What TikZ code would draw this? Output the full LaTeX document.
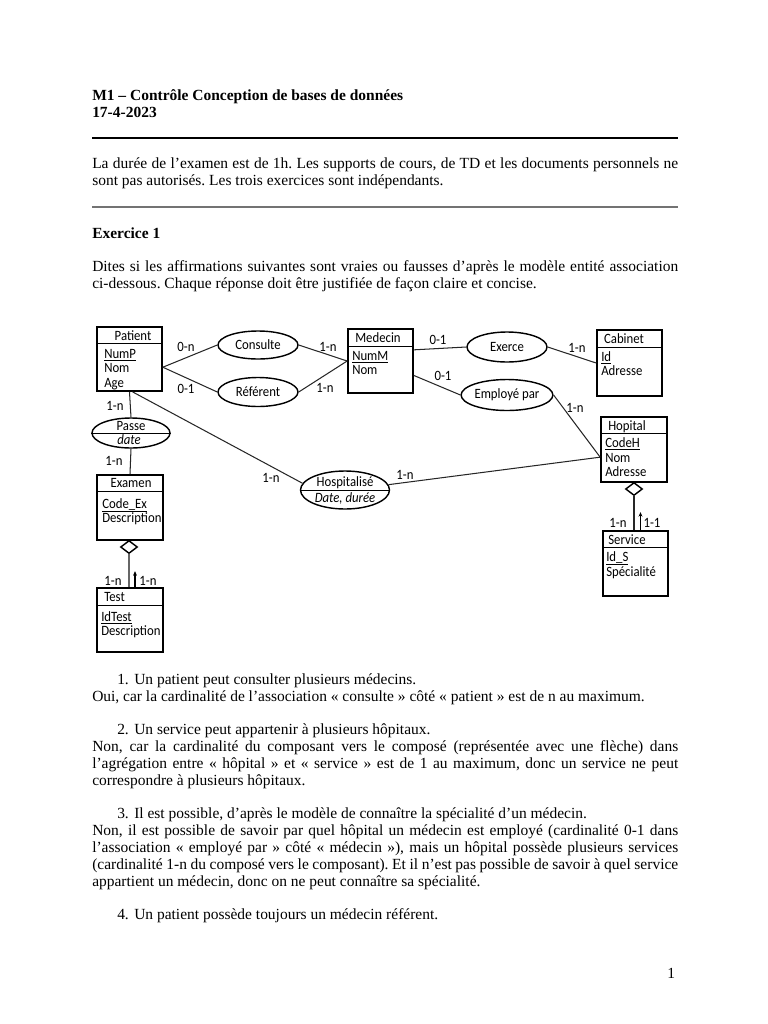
\documentclass[tikz,border=0pt]{standalone}
\usepackage{fontspec}
\setmainfont{Liberation Serif}
\newfontfamily\diagfont[FakeStretch=0.9]{Carlito}
\usetikzlibrary{shapes.geometric,calc,arrows.meta}
\newdimen\upx \upx=0.7751pt
\frenchspacing
\begin{document}
\begin{tikzpicture}[x=0.7751pt,y=-0.7751pt,
  body/.style={anchor=base west,inner sep=0,font=\fontsize{12}{14}\selectfont},
  ent/.style={draw,line width=1.3pt,rectangle,inner sep=0},
  rel/.style={draw,line width=1.1pt,ellipse,inner sep=0,font=\diagfont\fontsize{11}{12}\selectfont},
  attr/.style={anchor=base west,inner sep=0,font=\diagfont\fontsize{11}{12}\selectfont},
  hdr/.style={anchor=base,inner sep=0,font=\diagfont\fontsize{11}{12}\selectfont},
  card/.style={anchor=center,inner sep=0,font=\diagfont\fontsize{11}{12}\selectfont},
  sep/.style={line width=0.7pt},
  conn/.style={line width=0.8pt,black!85},
  agg/.style={draw,diamond,line width=1.1pt,inner sep=0,fill=white}
]
\fill[white] (0,0) rectangle (768,1024);
\useasboundingbox (0,0) rectangle (768,1024);

% ---------- header text ----------
\node[body,font=\bfseries\fontsize{12}{14}\selectfont] (t1) at (92,100) {M1 – Contrôle Conception de bases de données};
\node[body,font=\bfseries\fontsize{12}{14}\selectfont] (t2) at (92,117) {17-4-2023};
\draw[line width=0.9pt] (92,138) -- (678,138);
\node[body] (p1) at (92,168) {\makebox[454.2pt][s]{La durée de l’examen est de 1h. Les supports de cours, de TD et les documents personnels ne}};
\node[body] (p2) at (92,185) {sont pas autorisés. Les trois exercices sont indépendants.};
\draw[line width=2.2pt,black!55] (92,207) -- (678,207);
\node[body,font=\bfseries\fontsize{12}{14}\selectfont] (ex) at (92,238) {Exercice 1};
\node[body] (q1) at (92,271) {\makebox[454.2pt][s]{Dites si les affirmations suivantes sont vraies ou fausses d’après le modèle entité association}};
\node[body] (q2) at (92,288) {ci-dessous. Chaque réponse doit être justifiée de façon claire et concise.};

% ---------- diagram: entities ----------
\node[ent,minimum width=65*\upx,minimum height=64*\upx] (patient) at (129.5,359) {};
\draw[sep] (patient.west |- 0,343) -- (patient.east |- 0,343);
\node[hdr] (patientH) at (133,340) {Patient};
\node[attr] (patientA1) at (104,358) {\underline{NumP}};
\node[attr] (patientA2) at (104,372) {Nom};
\node[attr] (patientA3) at (104,387) {Age};

\node[ent,minimum width=65*\upx,minimum height=64*\upx] (medecin) at (380.5,361) {};
\draw[sep] (medecin.west |- 0,346) -- (medecin.east |- 0,346);
\node[hdr] (medecinH) at (378,342) {Medecin};
\node[attr] (medecinA1) at (352,360) {\underline{NumM}};
\node[attr] (medecinA2) at (352,374) {Nom};

\node[ent,minimum width=65*\upx,minimum height=66*\upx] (cabinet) at (629.5,363) {};
\draw[sep] (cabinet.west |- 0,347) -- (cabinet.east |- 0,347);
\node[hdr] (cabinetH) at (624,343) {Cabinet};
\node[attr] (cabinetA1) at (601,361) {\underline{Id}};
\node[attr] (cabinetA2) at (601,375) {Adresse};

\node[ent,minimum width=66*\upx,minimum height=65*\upx] (hopital) at (634,449.5) {};
\draw[sep] (hopital.west |- 0,433) -- (hopital.east |- 0,433);
\node[hdr] (hopitalH) at (627,430) {Hopital};
\node[attr] (hopitalA1) at (605,447) {\underline{CodeH}};
\node[attr] (hopitalA2) at (605,462) {Nom};
\node[attr] (hopitalA3) at (605,476) {Adresse};

\node[ent,minimum width=66*\upx,minimum height=65*\upx] (examen) at (130,507.5) {};
\draw[sep] (examen.west |- 0,491) -- (examen.east |- 0,491);
\node[hdr] (examenH) at (131,487) {Examen};
\node[attr] (examenA1) at (102,508) {\underline{Code\_Ex}};
\node[attr] (examenA2) at (102,522) {Description};

\node[ent,minimum width=66*\upx,minimum height=64*\upx] (test) at (130,620) {};
\draw[sep] (test.west |- 0,605) -- (test.east |- 0,605);
\node[attr] (testH) at (104,601) {Test};
\node[attr] (testA1) at (101,621) {\underline{IdTest}};
\node[attr] (testA2) at (101,635) {Description};

\node[ent,minimum width=65*\upx,minimum height=65*\upx] (service) at (635.5,563.5) {};
\draw[sep] (service.west |- 0,547) -- (service.east |- 0,547);
\node[hdr] (serviceH) at (627,544) {Service};
\node[attr] (serviceA1) at (606,561) {\underline{Id\_S}};
\node[attr] (serviceA2) at (606,576) {Spécialité};

% ---------- diagram: associations ----------
\node[rel,minimum width=80*\upx,minimum height=28*\upx] (consulte) at (258,345) {Consulte};
\node[rel,minimum width=80*\upx,minimum height=29*\upx] (referent) at (258,392) {Référent};
\node[rel,minimum width=80*\upx,minimum height=30*\upx] (exerce) at (507,347) {Exerce};
\node[rel,minimum width=81*\upx,minimum height=31*\upx] (employe) at (507,395) {Employé par};
\node[rel,minimum width=78*\upx,minimum height=30*\upx] (passe) at (131,433) {};
\draw[sep] (passe.west) -- (passe.east);
\node[hdr] (passeT) at (131,430) {Passe};
\node[hdr,font=\diagfont\itshape\fontsize{11}{12}\selectfont] (passeD) at (129,444) {date};
\node[rel,minimum width=89*\upx,minimum height=38*\upx] (hosp) at (345,490) {};
\draw[sep] (hosp.west) -- (hosp.east);
\node[hdr] (hospT) at (345,486) {Hospitalisé};
\node[hdr,font=\diagfont\itshape\fontsize{11}{12}\selectfont] (hospD) at (345,502) {Date, durée};

% ---------- connectors ----------
\coordinate (pR) at ($(patient.north east)!0.625!(patient.south east)$);
\coordinate (pB) at ($(patient.south)+(3,0)$);
\coordinate (mR1) at ($(medecin.north east)!0.33!(medecin.south east)$);
\coordinate (mR2) at ($(medecin.north east)!0.72!(medecin.south east)$);
\coordinate (hL) at ($(hopital.north west)!0.615!(hopital.south west)$);
\draw[conn] (pR) -- (consulte.west);
\draw[conn] (pR) -- (referent.west);
\draw[conn] (consulte.east) -- (medecin.west);
\draw[conn] (referent.east) -- (medecin.west);
\draw[conn] (mR1) -- (exerce.west);
\draw[conn] (exerce.east) -- (cabinet.west);
\draw[conn] (mR2) -- (employe.west);
\draw[conn] (employe.east) -- (hL);
\draw[conn] (pB) -- (hosp.171);
\draw[conn] (hosp.7) -- (hL);
\draw[conn] (patient.south) -- (passe.north);
\draw[conn] (passe.south) -- (examen.north);

% aggregations
\node[agg,minimum width=17*\upx,minimum height=13*\upx] (aggE) at (129,547) {};
\draw[conn,black!60] (aggE.south) -- (aggE.south |- test.north);
\coordinate (arE1) at ($(test.north)+(5,0)$);
\coordinate (arE2) at ($(test.north)+(5,-16)$);
\draw[line width=0.8pt,-{Stealth[length=3.5pt,width=3pt]}] (arE1) -- (arE2);

\node[agg,minimum width=17*\upx,minimum height=13*\upx] (aggH) at (634,489) {};
\draw[conn] (aggH.south) -- (aggH.south |- service.north);
\coordinate (arH1) at ($(service.north)+(5,0)$);
\coordinate (arH2) at ($(service.north)+(5,-18)$);
\draw[line width=0.8pt,-{Stealth[length=3.5pt,width=3pt]}] (arH1) -- (arH2);

% ---------- cardinalities ----------
\node[card] (c1) at (186,347) {0-n};
\node[card] (c2) at (328,347) {1-n};
\node[card] (c3) at (186,389) {0-1};
\node[card] (c4) at (325,388) {1-n};
\node[card] (c5) at (438,340) {0-1};
\node[card] (c6) at (577,348) {1-n};
\node[card] (c7) at (443,376) {0-1};
\node[card] (c8) at (575,408) {1-n};
\node[card] (c9) at (115,406) {1-n};
\node[card] (c10) at (114,461) {1-n};
\node[card] (c11) at (271,478) {1-n};
\node[card] (c12) at (405,475) {1-n};
\node[card] (c13) at (113,581) {1-n};
\node[card] (c14) at (148,581) {1-n};
\node[card] (c15) at (618,523) {1-n};
\node[card] (c16) at (652,523) {1-1};

% ---------- questions ----------
\node[body] (n1) at (117,684) {1.};
\node[body] (s1) at (134,684) {Un patient peut consulter plusieurs médecins.};
\node[body] (a1) at (92,701) {Oui, car la cardinalité de l’association « consulte » côté « patient » est de n au maximum.};

\node[body] (n2) at (117,734) {2.};
\node[body] (s2) at (134,734) {Un service peut appartenir à plusieurs hôpitaux.};
\node[body] (a2a) at (92,751) {\makebox[454.2pt][s]{Non, car la cardinalité du composant vers le composé (représentée avec une flèche) dans}};
\node[body] (a2b) at (92,768) {\makebox[454.2pt][s]{l’agrégation entre « hôpital » et « service » est de 1 au maximum, donc un service ne peut}};
\node[body] (a2c) at (92,785) {correspondre à plusieurs hôpitaux.};

\node[body] (n3) at (117,818) {3.};
\node[body] (s3) at (134,818) {Il est possible, d’après le modèle de connaître la spécialité d’un médecin.};
\node[body] (a3a) at (92,835) {\makebox[454.2pt][s]{Non, il est possible de savoir par quel hôpital un médecin est employé (cardinalité 0-1 dans}};
\node[body] (a3b) at (92,852) {\makebox[454.2pt][s]{l’association « employé par » côté « médecin »), mais un hôpital possède plusieurs services}};
\node[body] (a3c) at (92,869) {\makebox[454.2pt][s]{(cardinalité 1-n du composé vers le composant). Et il n’est pas possible de savoir à quel service}};
\node[body] (a3d) at (92,886) {appartient un médecin, donc on ne peut connaître sa spécialité.};

\node[body] (n4) at (117,919) {4.};
\node[body] (s4) at (134,919) {Un patient possède toujours un médecin référent.};

\node[body] (pg) at (667,978) {1};
\end{tikzpicture}
\end{document}
